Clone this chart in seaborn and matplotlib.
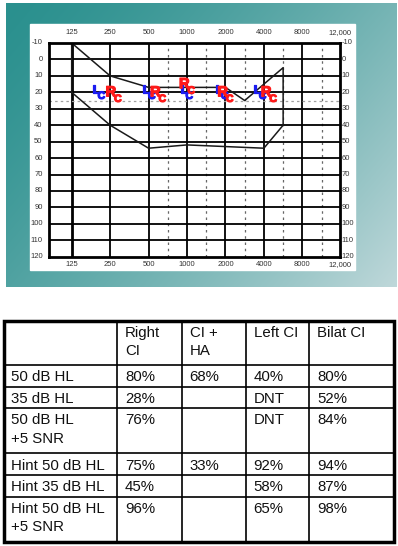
import numpy as np
import matplotlib.pyplot as plt
import matplotlib.patheffects as pe
import seaborn as sns
from matplotlib.patches import Rectangle

W, H = 398, 546
DPI = 100

# audiogram grid labels
freq_ticks = [125, 250, 500, 1000, 2000, 4000, 8000]
freq_labels = ["125", "250", "500", "1000", "2000", "4000", "8000"]
db_ticks = list(range(-10, 130, 10))

# speech area outline (Hz, dB HL)
banana_freq = [125, 250, 500, 2000, 2830, 5660, 5660, 4000, 1000, 500, 250, 125, 125]
banana_db = [-10, 10, 17, 17, 25, 5, 40, 54, 52, 54, 40, 20, -10]

# aided thresholds
thr_freq = [250, 500, 1000, 2000, 4000]
left_db = [20, 20, 20, 20, 20]
right_db = [20, 20, 15, 20, 20]

# speech test table
col_headers = ["", "Right\nCI", "CI +\nHA", "Left CI", "Bilat CI"]
row_labels = ["50 dB HL", "35 dB HL", "50 dB HL\n+5 SNR",
              "Hint 50 dB HL", "Hint 35 dB HL", "Hint 50 dB HL\n+5 SNR"]
right_ci = ["80%", "28%", "76%", "75%", "45%", "96%"]
ci_ha = ["68%", "", "", "33%", "", ""]
left_ci = ["40%", "DNT", "DNT", "92%", "58%", "65%"]
bilat_ci = ["80%", "52%", "84%", "94%", "87%", "98%"]

sns.set_theme(style="white")
plt.rcParams['font.family'] = ['Liberation Sans', 'DejaVu Sans']
sym_font = ['Liberation Sans Narrow', 'Liberation Sans']

fig = plt.figure(figsize=(W / DPI, H / DPI), dpi=DPI)
fig.patch.set_facecolor('white')

# background layer in pixel coords
bg = fig.add_axes([0, 0, 1, 1])
gx, gy = np.meshgrid(np.linspace(0, 1, 240), np.linspace(0, 1, 180))
t = np.clip(0.62 * gx + 0.38 * gy, 0, 1) ** 1.4
c0 = np.array([0x2a, 0x90, 0x8e]) / 255
c1 = np.array([0xbf, 0xd8, 0xda]) / 255
bg.imshow(c0 + (c1 - c0) * t[..., None], extent=(6, 397, 287, 3),
          aspect='auto', interpolation='bilinear')
bg.add_patch(Rectangle((30, 24), 325, 246, color='white', zorder=2))
bg.set_xlim(0, W)
bg.set_ylim(H, 0)
bg.axis('off')

# ---- table ----
col_x = [3.5, 117.3, 181.7, 245.7, 309.3, 393.7]
row_y = [320.5, 365, 386.7, 408.3, 453.3, 475, 496.7, 541.5]
for x in col_x[1:-1]:
    bg.plot([x, x], [row_y[0], row_y[-1]], color='black', lw=1.2, zorder=3)
for y in row_y[1:-1]:
    bg.plot([col_x[0], col_x[-1]], [y, y], color='black', lw=1.2, zorder=3)
bg.add_patch(Rectangle((col_x[0], row_y[0]), col_x[-1] - col_x[0], row_y[-1] - row_y[0],
                       fill=False, ec='black', lw=2.5, zorder=4))

table_rows = [col_headers] + [list(r) for r in zip(row_labels, right_ci, ci_ha, left_ci, bilat_ci)]
for r, cells in enumerate(table_rows):
    for c, txt in enumerate(cells):
        for i, line in enumerate(txt.split("\n")):
            bg.text(col_x[c] + 7.8, row_y[r] + 16.2 + i * 18.3, line, fontsize=10.8,
                    color='#111111', ha='left', va='baseline', zorder=5)

# ---- audiogram ----
ax = fig.add_axes([49 / W, 1 - 256.7 / H, 291 / W, 213.7 / H])
ax.set_xscale('log', base=2)
xmin, xmax = 125 * 2 ** -0.59, 125 * 2 ** 6.98
ax.set_xlim(xmin, xmax)
ax.set_ylim(120, -10)
ax.set_facecolor('white')

for f in freq_ticks:
    ax.axvline(f, color='black', lw=2 if f == 125 else 1.3, zorder=1)
mids = np.sqrt(np.array(freq_ticks[2:]) * np.array(freq_ticks[3:] + [16000]))
for f in mids:
    ax.axvline(f, color='#666666', lw=0.9, ls=(0, (2, 3)), zorder=1)
for d in db_ticks[1:-1]:
    ax.axhline(d, color='black', lw=1.3, zorder=1)
ax.axhline(25, color='#a0a0a0', lw=0.9, ls=(0, (2, 2.5)), zorder=1)

sns.lineplot(x=banana_freq, y=banana_db, sort=False, estimator=None,
             color='#1a1a1a', lw=1.1, ax=ax, zorder=2)

# L / R symbols with subscript C
blue, red = '#1c1cf0', '#ff1a1a'
thick_b = [pe.withStroke(linewidth=0.9, foreground=blue)]
thick_r = [pe.withStroke(linewidth=0.9, foreground=red)]
l_dx = [-18, -6, -7, -10, -10.5]
r_dx = [-4.5, 1.5, -8, -8, -3]
for f, d, dx in zip(thr_freq, left_db, l_dx):
    ax.annotate('L', (f, d), xytext=(dx, -1), textcoords='offset pixels', color=blue,
                fontsize=9, fontweight='bold', ha='left', va='baseline', zorder=4,
                family=sym_font, path_effects=thick_b)
    ax.annotate('C', (f, d), xytext=(dx + 5.5, -6.5), textcoords='offset pixels', color=blue,
                fontsize=7.5, fontweight='bold', ha='left', va='baseline', zorder=4,
                family=sym_font, path_effects=thick_b)
for f, d, dx in zip(thr_freq, right_db, r_dx):
    ax.annotate('R', (f, d), xytext=(dx, -4), textcoords='offset pixels', color=red,
                fontsize=10.5, fontweight='bold', ha='left', va='baseline', zorder=5,
                family=sym_font, path_effects=thick_r)
    ax.annotate('C', (f, d), xytext=(dx + 8.5, -9.5), textcoords='offset pixels', color=red,
                fontsize=7.5, fontweight='bold', ha='left', va='baseline', zorder=5,
                family=sym_font, path_effects=thick_r)

ax.set_xticks([])
ax.set_yticks([])
ax.set_xlabel('')
ax.set_ylabel('')
xt = ax.get_xaxis_transform()
yt = ax.get_yaxis_transform()
for f, lab in zip(freq_ticks + [xmax], freq_labels + ["12,000"]):
    ax.text(f, 1.05, lab, transform=xt, ha='center', va='center', fontsize=5.5, color='#333333')
    ax.text(f, -0.037, lab, transform=xt, ha='center', va='center', fontsize=5.5, color='#333333')
for d in db_ticks:
    ax.text(-0.022, d, str(d), transform=yt, ha='right', va='center', fontsize=5.5, color='#333333')
    ax.text(1.005, d, str(d), transform=yt, ha='left', va='center', fontsize=5.5, color='#333333')

for s in ax.spines.values():
    s.set_visible(True)
    s.set_color('black')
    s.set_linewidth(2)

fig.savefig('out.png', dpi=DPI)
